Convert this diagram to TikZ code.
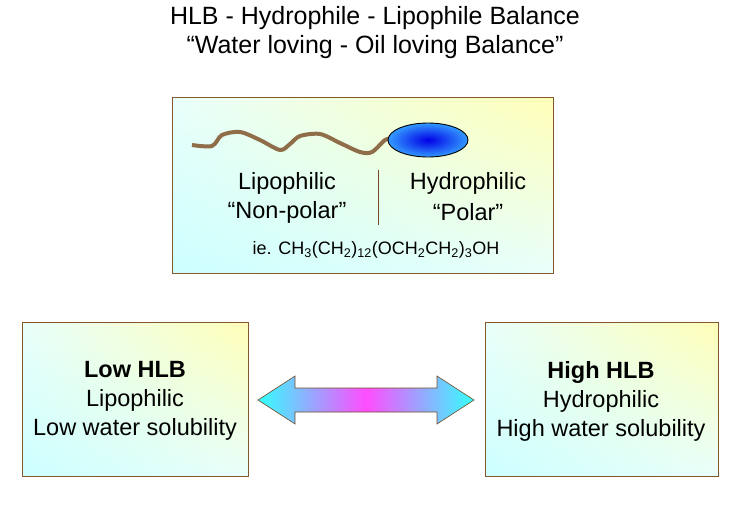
\documentclass[tikz,border=0pt]{standalone}
\usepackage{fontspec}
\setmainfont{Liberation Sans}
\usetikzlibrary{shadings}
\begin{document}
\begin{tikzpicture}[x=1pt,y=-1pt,
  panel/.style={draw=brown!70!black,line width=0.8pt},
  lbl/.style={font=\fontsize{23.5}{29}\selectfont,align=center},
  blbl/.style={font=\fontsize{23.5}{29}\selectfont,align=center},
  ttl/.style={font=\fontsize{25}{28}\selectfont}]
\useasboundingbox (0,0) rectangle (749,507);
\newcommand\gradbox[4]{%
  \shade[lower left=cyan!20, upper right=yellow!28, upper left=yellow!15!cyan!10, lower right=yellow!15!cyan!10] (#1,#2) rectangle (#3,#4);
  \draw[panel] (#1,#2) rectangle (#3,#4);}
\node[ttl] (t1) at (375,18) {HLB - Hydrophile - Lipophile Balance};
\node[ttl] (t2) at (375,47) {“Water loving - Oil loving Balance”};
\gradbox{172}{97}{553}{273}
\gradbox{22}{322}{248}{476}
\gradbox{485}{322}{718}{476}
\draw[line width=4pt,brown!65!black!85,line join=round] plot[smooth,tension=0.5] coordinates {(192,145) (212,146) (222,135) (240,132) (260,140) (280,150) (290,144) (300,136) (320,134) (340,143) (360,152) (372,152) (385,140) (392,139)};
\shade[inner color=blue!90!black, outer color=blue!50!cyan!80, draw=black, line width=0.9pt] (428,140) ellipse [x radius=40, y radius=17];
\node (head) at (428,140) {};
\draw[line width=1pt,brown!60!black] (378,170) -- (378,225);
\node[lbl] (lip) at (287,183) {Lipophilic};
\node[lbl] (np) at (287,212) {“Non-polar”};
\node[lbl] (hyd) at (468,183) {Hydrophilic};
\node[lbl] (pol) at (468,212) {“Polar”};
\node[font=\fontsize{18}{20}\selectfont] (f) at (376,250) {ie. CH\textsubscript{3}(CH\textsubscript{2})\textsubscript{12}(OCH\textsubscript{2}CH\textsubscript{2})\textsubscript{3}OH};
\node[blbl] (lo) at (135,401) {\textbf{Low HLB}\\Lipophilic\\Low water solubility};
\node[blbl] (hi) at (601,401) {\textbf{High HLB}\\Hydrophilic\\High water solubility};
\shade[left color=cyan!80, right color=cyan!80, middle color=magenta!70] (258,400) -- (295,376) -- (295,388) -- (437,388) -- (437,376) -- (474,400) -- (437,424) -- (437,412) -- (295,412) -- (295,424) -- cycle;
\draw[brown!60!black,line width=0.6pt] (258,400) -- (295,376) -- (295,388) -- (437,388) -- (437,376) -- (474,400) -- (437,424) -- (437,412) -- (295,412) -- (295,424) -- cycle;
\end{tikzpicture}
\end{document}
